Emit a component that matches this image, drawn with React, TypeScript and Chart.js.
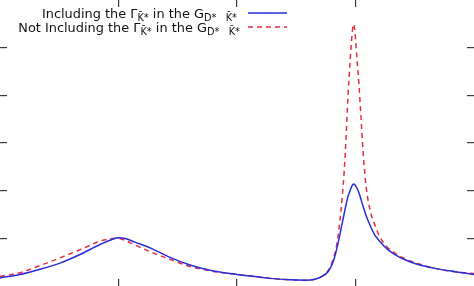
import React, { useEffect, useRef } from 'react';
import { Chart, registerables } from 'chart.js';

Chart.register(...registerables);

// x positions (data units) of the sampled curve points
const X_VALUES = [
  0, 0.169, 0.338, 0.506, 0.675, 0.844, 0.928, 0.996, 1.063, 1.139, 1.266, 1.435, 1.603,
  1.772, 1.941, 2.11, 2.278, 2.447, 2.574, 2.658, 2.717, 2.768, 2.81, 2.844, 2.878, 2.903,
  2.92, 2.937, 2.954, 2.97, 2.983, 2.996, 3.013, 3.03, 3.046, 3.063, 3.089, 3.122, 3.165,
  3.207, 3.266, 3.333, 3.418, 3.527, 3.671, 3.84, 4.0,
];

// "Including the Γ in the G" (solid blue)
const INCLUDING = [
  0.17, 0.24, 0.35, 0.48, 0.66, 0.87, 0.96, 1.01, 0.99, 0.92, 0.8, 0.6, 0.44, 0.33, 0.26,
  0.21, 0.16, 0.13, 0.12, 0.14, 0.2, 0.3, 0.5, 0.8, 1.2, 1.5, 1.7, 1.88, 2.0,
  2.1, 2.14, 2.12, 2.05, 1.95, 1.82, 1.68, 1.48, 1.28, 1.06, 0.93, 0.78, 0.66, 0.55,
  0.45, 0.37, 0.3, 0.24,
];

// "Not Including the Γ in the G" (dashed red)
const NOT_INCLUDING = [
  0.2, 0.28, 0.43, 0.59, 0.76, 0.94, 0.99, 1.0, 0.95, 0.86, 0.72, 0.56, 0.41, 0.32, 0.26,
  0.21, 0.16, 0.13, 0.12, 0.14, 0.2, 0.32, 0.55, 0.9, 1.6, 2.35, 3.1, 4.0, 4.7,
  5.25, 5.49, 5.3, 4.75, 4.2, 3.55, 2.85, 2.1, 1.6, 1.27, 1.02, 0.82, 0.69, 0.57,
  0.47, 0.37, 0.3, 0.26,
];

const X_TICKS = [1, 2, 3];
const Y_TICKS = [1, 2, 3, 4, 5];
const X_RANGE = [0, 4];
const Y_RANGE = [0, 6];

// legend text pieces: [text, isSubscript]
const LEGEND_LINES: [string, boolean][][] = [
  [['Including the Γ', false], ['K\u0304*', true], [' in the G', false], ['D*   K\u0304*', true]],
  [['Not Including the Γ', false], ['K\u0304*', true], [' in the G', false], ['D*   K\u0304*', true]],
];

const MAIN_FONT = '12.9px "DejaVu Sans"';
const SUB_FONT = '9.8px "DejaVu Sans"';

const legendPlugin = {
  id: 'gnuplotLegend',
  afterDraw(chart: any) {
    const ctx = chart.ctx as CanvasRenderingContext2D;
    const rightEdges = [237, 240];
    const sampleX0 = 248;
    const sampleX1 = 287;
    ctx.save();
    ctx.fillStyle = '#111';
    ctx.textBaseline = 'alphabetic';
    ctx.textAlign = 'left';
    LEGEND_LINES.forEach((parts, i) => {
      const baseY = 18.3 + i * 14;
      let total = 0;
      parts.forEach(([t, sub]) => {
        ctx.font = sub ? SUB_FONT : MAIN_FONT;
        total += ctx.measureText(t).width;
      });
      let x = rightEdges[i] - total;
      parts.forEach(([t, sub]) => {
        ctx.font = sub ? SUB_FONT : MAIN_FONT;
        ctx.fillText(t, x, baseY + (sub ? 2.5 : 0));
        x += ctx.measureText(t).width;
      });
      const ds = chart.data.datasets[i];
      ctx.strokeStyle = ds.borderColor;
      ctx.lineWidth = ds.borderWidth;
      ctx.setLineDash(ds.borderDash || []);
      ctx.beginPath();
      ctx.moveTo(sampleX0, baseY - 5.3);
      ctx.lineTo(sampleX1, baseY - 5.3);
      ctx.stroke();
    });
    ctx.restore();
  },
};

function makeAxis(axis: 'x' | 'y', position: string, range: number[], ticks: number[]) {
  return {
    type: 'linear',
    axis,
    position,
    min: range[0],
    max: range[1],
    afterBuildTicks: (s: any) => {
      s.ticks = ticks.map((v) => ({ value: v }));
    },
    afterFit: (s: any) => {
      if (axis === 'x') s.height = 0;
      else s.width = 0;
    },
    ticks: { display: false },
    border: { display: false },
    grid: {
      drawOnChartArea: false,
      drawTicks: true,
      tickLength: -7,
      color: '#3a3a3a',
      lineWidth: 1.2,
    },
  };
}

export default function App() {
  const ref = useRef<HTMLCanvasElement>(null);

  useEffect(() => {
    if (!ref.current) return;
    const chart = new Chart(ref.current, {
      type: 'line',
      data: {
        datasets: [
          {
            label: 'Including the Γ in the G',
            data: X_VALUES.map((x, i) => ({ x, y: INCLUDING[i] })),
            borderColor: 'rgb(40, 45, 215)',
            borderWidth: 1.5,
            pointRadius: 0,
            cubicInterpolationMode: 'monotone',
            fill: false,
          },
          {
            label: 'Not Including the Γ in the G',
            data: X_VALUES.map((x, i) => ({ x, y: NOT_INCLUDING[i] })),
            borderColor: 'rgb(228, 45, 65)',
            borderWidth: 1.5,
            borderDash: [5, 4],
            pointRadius: 0,
            cubicInterpolationMode: 'monotone',
            fill: false,
          },
        ],
      } as any,
      options: {
        animation: false,
        responsive: false,
        layout: { padding: 0 },
        plugins: { legend: { display: false }, tooltip: { enabled: false } },
        scales: {
          x: makeAxis('x', 'bottom', X_RANGE, X_TICKS),
          x2: makeAxis('x', 'top', X_RANGE, X_TICKS),
          y: makeAxis('y', 'left', Y_RANGE, Y_TICKS),
          y2: makeAxis('y', 'right', Y_RANGE, Y_TICKS),
        } as any,
      },
      plugins: [legendPlugin],
    });
    return () => chart.destroy();
  }, []);

  return (
    <canvas
      ref={ref}
      width={474}
      height={286}
      style={{ position: 'fixed', left: 0, top: 0, display: 'block', background: '#fff' }}
    />
  );
}
